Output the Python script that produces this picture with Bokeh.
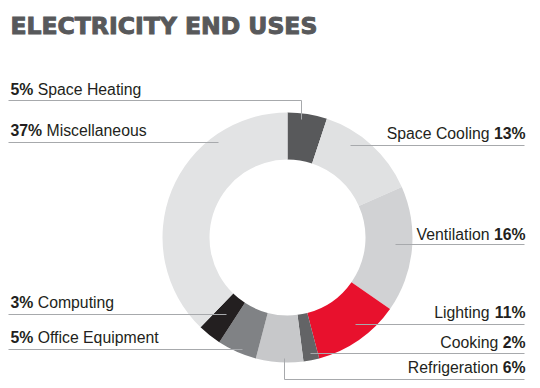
import math
from bokeh.plotting import figure
from bokeh.models import Range1d
from bokeh.core.properties import value
from bokeh.embed import file_html
from bokeh.resources import INLINE

W, H = 540, 388

# ---- data ----
names = ["Space Heating", "Space Cooling", "Ventilation", "Lighting", "Cooking",
         "Refrigeration", "Office Equipment", "Computing", "Miscellaneous"]
values = [5, 13, 16, 11, 2, 6, 5, 3, 37]
colors = ["#58595b", "#e0e1e2", "#d1d2d4", "#e8112d", "#636466",
          "#c7c8ca", "#808285", "#231f20", "#e2e3e4"]

# ---- layout (screen px, y down) ----
cx, cy = 287, 237
r_out, r_in = 125, 78
FS = 15.8
side = ["left", "right", "right", "right", "right", "right", "left", "left", "left"]
text_y = [89, 133, 234, 312, 342, 367, 337, 302, 130]
line_y = [100, 145, 244, 324, 353, 379, 349, 314, 142]
line_end = [301, 350, 395, 355, 310, 284, 242, 226, 218]
line_drop = [119, None, None, None, None, 358, None, None, None]
LX, RX = 8, 524
TX_L, TX_R = 10, 525

def sy(y):
    return H - y

p = figure(width=W, height=H, output_backend="svg", toolbar_location=None,
           x_range=Range1d(0, W), y_range=Range1d(0, H), min_border=0)
p.axis.visible = False
p.grid.visible = False
p.outline_line_color = None
p.background_fill_color = "white"

total = sum(values)
cum = 0
starts, ends = [], []
for v in values:
    starts.append(math.pi / 2 - 2 * math.pi * cum / total)
    cum += v
    ends.append(math.pi / 2 - 2 * math.pi * cum / total)

# leader lines
xs, ys = [], []
for i in range(len(names)):
    if side[i] == "left":
        lx = [LX, line_end[i]]
    else:
        lx = [RX, line_end[i]]
    ly = [sy(line_y[i]), sy(line_y[i])]
    if line_drop[i] is not None:
        lx.append(line_end[i])
        ly.append(sy(line_drop[i]))
    xs.append(lx)
    ys.append(ly)

p.annular_wedge(x=[cx] * len(values), y=[sy(cy)] * len(values),
                inner_radius=r_in, outer_radius=r_out,
                inner_radius_units="screen", outer_radius_units="screen",
                start_angle=starts, end_angle=ends, direction="clock",
                fill_color=colors, line_color=None)

p.multi_line(xs=xs, ys=ys, line_color="#a7a9ac", line_width=1)

# text widths (Arial/Liberation metrics, em)
bold_w = {"0": .556, "1": .556, "2": .556, "3": .556, "4": .556, "5": .556,
          "6": .556, "7": .556, "8": .556, "9": .556, "%": .889}
SP = 0.278

FONT = value("Liberation Sans")
for i, nm in enumerate(names):
    pct = f"{values[i]}%"
    bw = sum(bold_w[c] for c in pct) * FS
    y = sy(text_y[i])
    if side[i] == "left":
        p.text(x=[TX_L], y=[y], text=[pct], text_font=FONT, text_font_size=f"{FS}px",
               text_font_style="bold", text_color="#231f20", text_align="left",
               text_baseline="alphabetic")
        p.text(x=[TX_L + bw + SP * FS], y=[y], text=[nm], text_font=FONT,
               text_font_size=f"{FS}px", text_color="#231f20", text_align="left",
               text_baseline="alphabetic")
    else:
        p.text(x=[TX_R], y=[y], text=[pct], text_font=FONT, text_font_size=f"{FS}px",
               text_font_style="bold", text_color="#231f20", text_align="right",
               text_baseline="alphabetic")
        p.text(x=[TX_R - bw - SP * FS], y=[y], text=[nm], text_font=FONT,
               text_font_size=f"{FS}px", text_color="#231f20", text_align="right",
               text_baseline="alphabetic")

p.text(x=[10], y=[sy(25)], text=["ELECTRICITY END USES"], text_font=value("DejaVu Sans"),
       text_font_size="23.5px", text_font_style="bold", text_color="#58595b",
       text_outline_color="#58595b",
       text_align="left", text_baseline="alphabetic")

open("out.html", "w").write(file_html(p, INLINE))
